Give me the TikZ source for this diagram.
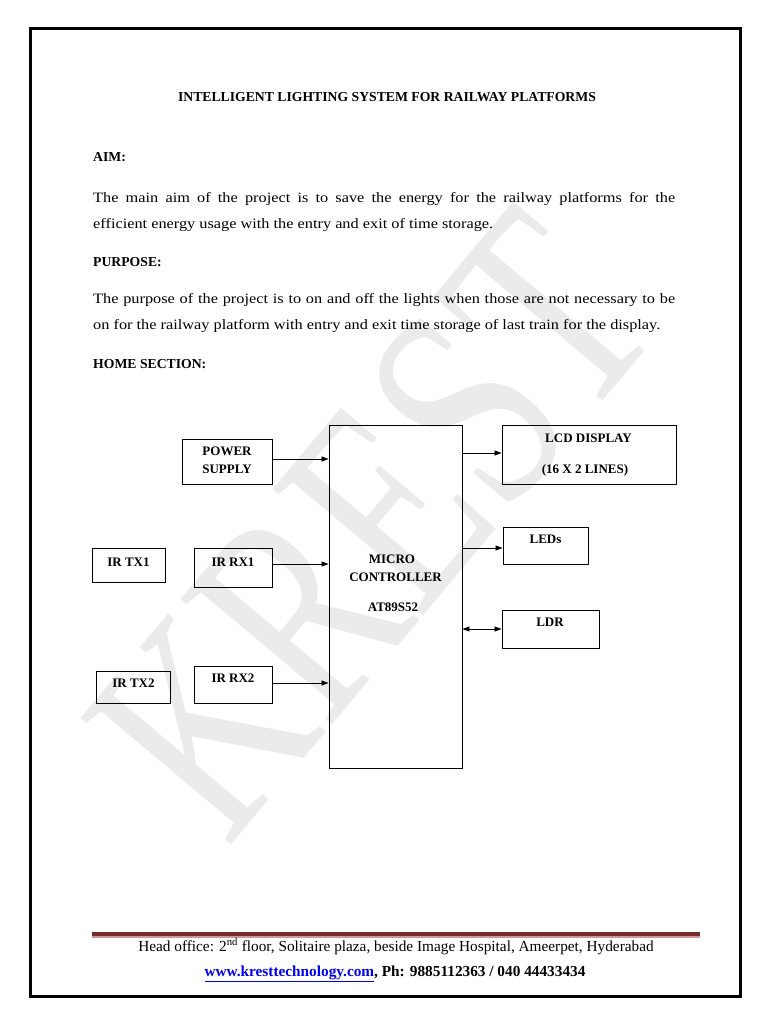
\documentclass[tikz,border=0pt]{standalone}
\usepackage{fontspec}
\setmainfont{Liberation Serif}
\newfontfamily\bodyfont[FakeStretch=1.14]{Liberation Serif}
\usetikzlibrary{arrows.meta}
\definecolor{wmgray}{gray}{0.92}
\definecolor{ruledark}{HTML}{7A2A2A}
\definecolor{rulelight}{HTML}{C89A9A}
\definecolor{linkblue}{HTML}{0000EE}
\begin{document}
\begin{tikzpicture}[x=1pt,y=-1pt,
  box/.style={draw, line width=0.9pt, inner sep=0pt, rectangle},
  lbl/.style={font=\fontsize{13}{15}\selectfont\bfseries, inner sep=0pt, anchor=base},
  txt/.style={font=\bodyfont\fontsize{14.3}{16}\selectfont, inner sep=0pt, anchor=base west},
  head/.style={font=\fontsize{13.7}{16}\selectfont\bfseries, inner sep=0pt, anchor=base west},
  arr/.style={-{Triangle[length=7pt,width=5pt]}, line width=0.8pt},
  darr/.style={{Triangle[length=7pt,width=5pt]}-{Triangle[length=7pt,width=5pt]}, line width=0.8pt}]
\useasboundingbox (0,0) rectangle (768,1024);
\fill[white] (0,0) rectangle (768,1024);
% watermark
\node[text=wmgray, font=\fontsize{300}{300}\selectfont, rotate=50, xscale=0.72, inner sep=0pt] (wm) at (372,525) {KREST};
% frame
\draw[line width=3pt] (30,28.5) rectangle (740,996);
% title and texts
\node[font=\fontsize{13.7}{16}\selectfont\bfseries, inner sep=0pt, anchor=base] (title) at (387,102) {INTELLIGENT LIGHTING SYSTEM FOR RAILWAY PLATFORMS};
\node[head] (aimh) at (93,162) {AIM:};
\node[txt] (aim1) at (93,203) {\makebox[582pt][s]{The main aim of the project is to save the energy for the railway platforms for the}};
\node[txt] (aim2) at (93,229) {efficient energy usage with the entry and exit of time storage.};
\node[head] (purh) at (93,266) {PURPOSE:};
\node[txt] (pur1) at (93,303) {\makebox[582pt][s]{The purpose of the project is to on and off the lights when those are not necessary to be}};
\node[txt] (pur2) at (93,329) {on for the railway platform with entry and exit time storage of last train for the display.};
\node[head] (homeh) at (93,368) {HOME SECTION:};
% boxes
\node[box, minimum width=90pt, minimum height=45pt] (ps) at (227,461.5) {};
\node[box, minimum width=133pt, minimum height=343pt] (mc) at (395.5,596.5) {};
\node[box, minimum width=174pt, minimum height=59pt] (lcd) at (589,454.5) {};
\node[box, minimum width=85pt, minimum height=37pt] (leds) at (545.5,545.5) {};
\node[box, minimum width=97pt, minimum height=38pt] (ldr) at (550.5,629) {};
\node[box, minimum width=73pt, minimum height=34pt] (tx1) at (128.5,565) {};
\node[box, minimum width=78pt, minimum height=39pt] (rx1) at (233,567.5) {};
\node[box, minimum width=74pt, minimum height=32pt] (tx2) at (133,687) {};
\node[box, minimum width=78pt, minimum height=37pt] (rx2) at (233,684.5) {};
% labels
\node[lbl] (ps1) at (227,455.5) {POWER};
\node[lbl] (ps2) at (227,473.5) {SUPPLY};
\node[lbl] (mc1) at (392,563) {MICRO};
\node[lbl] (mc2) at (395.5,581.5) {CONTROLLER};
\node[lbl] (mc3) at (393,611) {AT89S52};
\node[lbl] (lcd1) at (588.5,442) {LCD DISPLAY};
\node[lbl] (lcd2) at (585,473) {(16 X 2 LINES)};
\node[lbl] (leds1) at (545.5,543.5) {LEDs};
\node[lbl] (ldr1) at (550,626.5) {LDR};
\node[lbl] (tx1l) at (128.5,566) {IR TX1};
\node[lbl] (rx1l) at (233,566) {IR RX1};
\node[lbl] (tx2l) at (133.5,687.5) {IR TX2};
\node[lbl] (rx2l) at (233,682.5) {IR RX2};
% connectors
\draw[arr] ([yshift=2.5pt]ps.east) -- ([yshift=2.5pt]ps.east -| mc.west);
\draw[arr] ([yshift=1.5pt]mc.east |- lcd.west) -- ([yshift=1.5pt]lcd.west);
\draw[arr] ([yshift=-2.5pt]mc.east |- leds.west) -- ([yshift=-2.5pt]leds.west);
\draw[darr] (mc.east |- ldr.west) -- (ldr.west);
\draw[arr] ([yshift=3.5pt]rx1.east) -- ([yshift=3.5pt]rx1.east -| mc.west);
\draw[arr] ([yshift=1.5pt]rx2.east) -- ([yshift=1.5pt]rx2.east -| mc.west);
% footer
\coordinate (fl) at (92,934);
\coordinate (fr) at (700,934);
\draw[ruledark, line width=3.5pt] (fl) -- (fr);
\draw[rulelight, line width=2pt] ([yshift=-2.7pt]fl) -- ([yshift=-2.7pt]fr);
\node[font=\fontsize{15.3}{17}\selectfont, inner sep=0pt, anchor=base] (foot1) at (396,951) {Head office: 2\textsuperscript{nd} floor, Solitaire plaza, beside Image Hospital, Ameerpet, Hyderabad};
\node[font=\fontsize{15.3}{17}\selectfont\bfseries, inner sep=0pt, anchor=base] (foot2) at (395,976) {\textcolor{linkblue}{\underline{www.kresttechnology.com}}, Ph: 9885112363 / 040 44433434};
\end{tikzpicture}
\end{document}
